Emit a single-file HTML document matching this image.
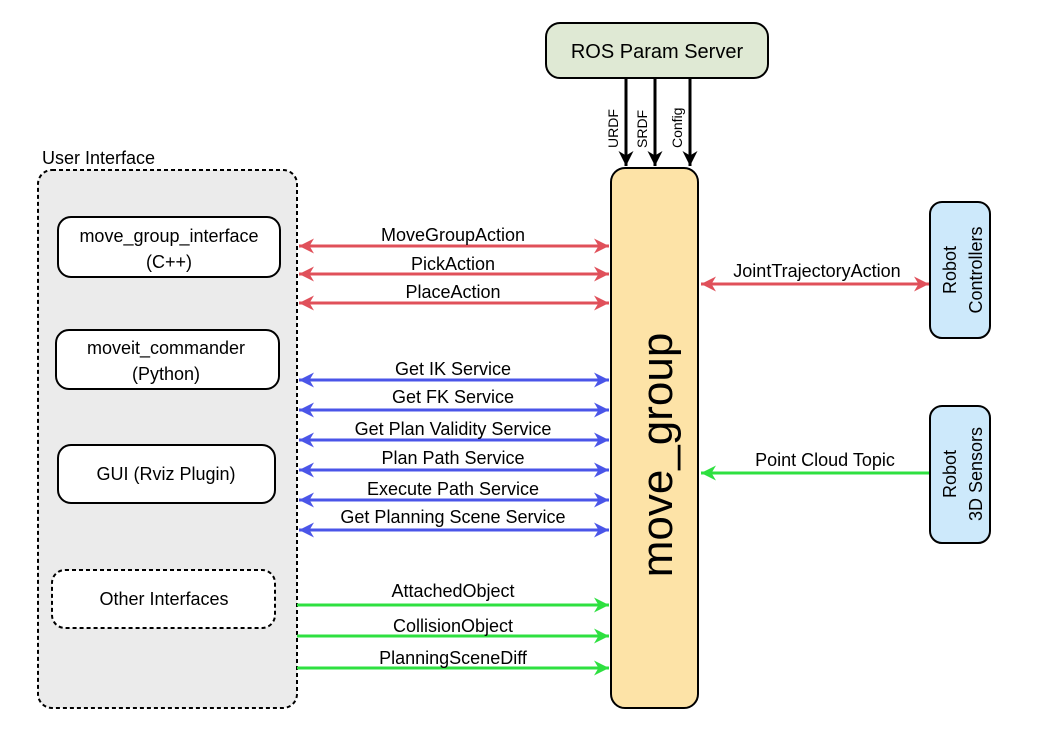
<!DOCTYPE html>
<html><head><meta charset="utf-8"><style>
html,body{margin:0;padding:0;background:#fff;}
svg{display:block;font-family:"Liberation Sans",sans-serif;}
</style></head><body>
<svg width="1061" height="732" viewBox="0 0 1061 732">
<defs>
<marker id="r" viewBox="0 0 10 10" refX="10" refY="5" markerWidth="5" markerHeight="5" orient="auto-start-reverse"><path d="M0,0 L10,5 L0,10 L3,5z" fill="#e0505a"/></marker>
<marker id="b" viewBox="0 0 10 10" refX="10" refY="5" markerWidth="5" markerHeight="5" orient="auto-start-reverse"><path d="M0,0 L10,5 L0,10 L3,5z" fill="#4a55e8"/></marker>
<marker id="g" viewBox="0 0 10 10" refX="10" refY="5" markerWidth="5" markerHeight="5" orient="auto-start-reverse"><path d="M0,0 L10,5 L0,10 L3,5z" fill="#2ee040"/></marker>
<marker id="k" viewBox="0 0 10 10" refX="10" refY="5" markerWidth="5" markerHeight="5" orient="auto"><path d="M0,0 L10,5 L0,10 L3,5z" fill="#000"/></marker>
</defs>
<rect x="546" y="23" width="222" height="55" rx="14" fill="#dfe9d4" stroke="#000" stroke-width="2"/>
<text x="657" y="58" font-size="20" text-anchor="middle">ROS Param Server</text>
<g stroke="#000" stroke-width="3">
<line x1="626" y1="78" x2="626" y2="166" marker-end="url(#k)"/>
<line x1="655" y1="78" x2="655" y2="166" marker-end="url(#k)"/>
<line x1="690" y1="78" x2="690" y2="166" marker-end="url(#k)"/>
</g>
<g font-size="14">
<text transform="translate(618,148) rotate(-90)">URDF</text>
<text transform="translate(647,148) rotate(-90)">SRDF</text>
<text transform="translate(682,148) rotate(-90)">Config</text>
</g>
<rect x="611" y="168" width="87" height="540" rx="14" fill="#fde3a7" stroke="#000" stroke-width="2"/>
<text transform="translate(672,455) rotate(-90)" font-size="44" text-anchor="middle">move_group</text>
<text x="42" y="164" font-size="18">User Interface</text>
<rect x="38" y="170" width="259" height="538" rx="14" fill="#ebebeb" stroke="#000" stroke-width="2" stroke-dasharray="4,3"/>
<g font-size="18" text-anchor="middle">
<rect x="58" y="217" width="222" height="60" rx="13" fill="#fff" stroke="#000" stroke-width="2"/>
<text x="169" y="242">move_group_interface</text><text x="169" y="268">(C++)</text>
<rect x="56" y="330" width="223" height="59" rx="13" fill="#fff" stroke="#000" stroke-width="2"/>
<text x="166" y="354">moveit_commander</text><text x="166" y="380">(Python)</text>
<rect x="58" y="445" width="217" height="58" rx="13" fill="#fff" stroke="#000" stroke-width="2"/>
<text x="166" y="480">GUI (Rviz Plugin)</text>
<rect x="52" y="570" width="223" height="58" rx="13" fill="#fff" stroke="#000" stroke-width="2" stroke-dasharray="4,3"/>
<text x="164" y="605">Other Interfaces</text>
</g>
<g stroke="#e0505a" stroke-width="3">
<line x1="299" y1="246" x2="609" y2="246" marker-start="url(#r)" marker-end="url(#r)"/>
<line x1="299" y1="274" x2="609" y2="274" marker-start="url(#r)" marker-end="url(#r)"/>
<line x1="299" y1="303" x2="609" y2="303" marker-start="url(#r)" marker-end="url(#r)"/>
<line x1="701" y1="284" x2="929" y2="284" marker-start="url(#r)" marker-end="url(#r)"/>
</g>
<g stroke="#4a55e8" stroke-width="3">
<line x1="299" y1="380" x2="609" y2="380" marker-start="url(#b)" marker-end="url(#b)"/>
<line x1="299" y1="410" x2="609" y2="410" marker-start="url(#b)" marker-end="url(#b)"/>
<line x1="299" y1="440" x2="609" y2="440" marker-start="url(#b)" marker-end="url(#b)"/>
<line x1="299" y1="470" x2="609" y2="470" marker-start="url(#b)" marker-end="url(#b)"/>
<line x1="299" y1="500" x2="609" y2="500" marker-start="url(#b)" marker-end="url(#b)"/>
<line x1="299" y1="530" x2="609" y2="530" marker-start="url(#b)" marker-end="url(#b)"/>
</g>
<g stroke="#2ee040" stroke-width="3">
<line x1="297" y1="605" x2="609" y2="605" marker-end="url(#g)"/>
<line x1="297" y1="636" x2="609" y2="636" marker-end="url(#g)"/>
<line x1="297" y1="668" x2="609" y2="668" marker-end="url(#g)"/>
<line x1="930" y1="473" x2="701" y2="473" marker-end="url(#g)"/>
</g>
<g font-size="18" text-anchor="middle">
<text x="453" y="241">MoveGroupAction</text>
<text x="453" y="270">PickAction</text>
<text x="453" y="298">PlaceAction</text>
<text x="453" y="375">Get IK Service</text>
<text x="453" y="403">Get FK Service</text>
<text x="453" y="435">Get Plan Validity Service</text>
<text x="453" y="464">Plan Path Service</text>
<text x="453" y="495">Execute Path Service</text>
<text x="453" y="523">Get Planning Scene Service</text>
<text x="453" y="597">AttachedObject</text>
<text x="453" y="632">CollisionObject</text>
<text x="453" y="664">PlanningSceneDiff</text>
<text x="817" y="277">JointTrajectoryAction</text>
<text x="825" y="466">Point Cloud Topic</text>
</g>
<rect x="930" y="202" width="60" height="136" rx="12" fill="#cde9fb" stroke="#000" stroke-width="2"/>
<rect x="930" y="406" width="60" height="137" rx="12" fill="#cde9fb" stroke="#000" stroke-width="2"/>
<g font-size="18" text-anchor="middle">
<text transform="translate(956,270) rotate(-90)">Robot</text>
<text transform="translate(982,270) rotate(-90)">Controllers</text>
<text transform="translate(956,474) rotate(-90)">Robot</text>
<text transform="translate(982,474) rotate(-90)">3D Sensors</text>
</g>
</svg>
</body></html>
